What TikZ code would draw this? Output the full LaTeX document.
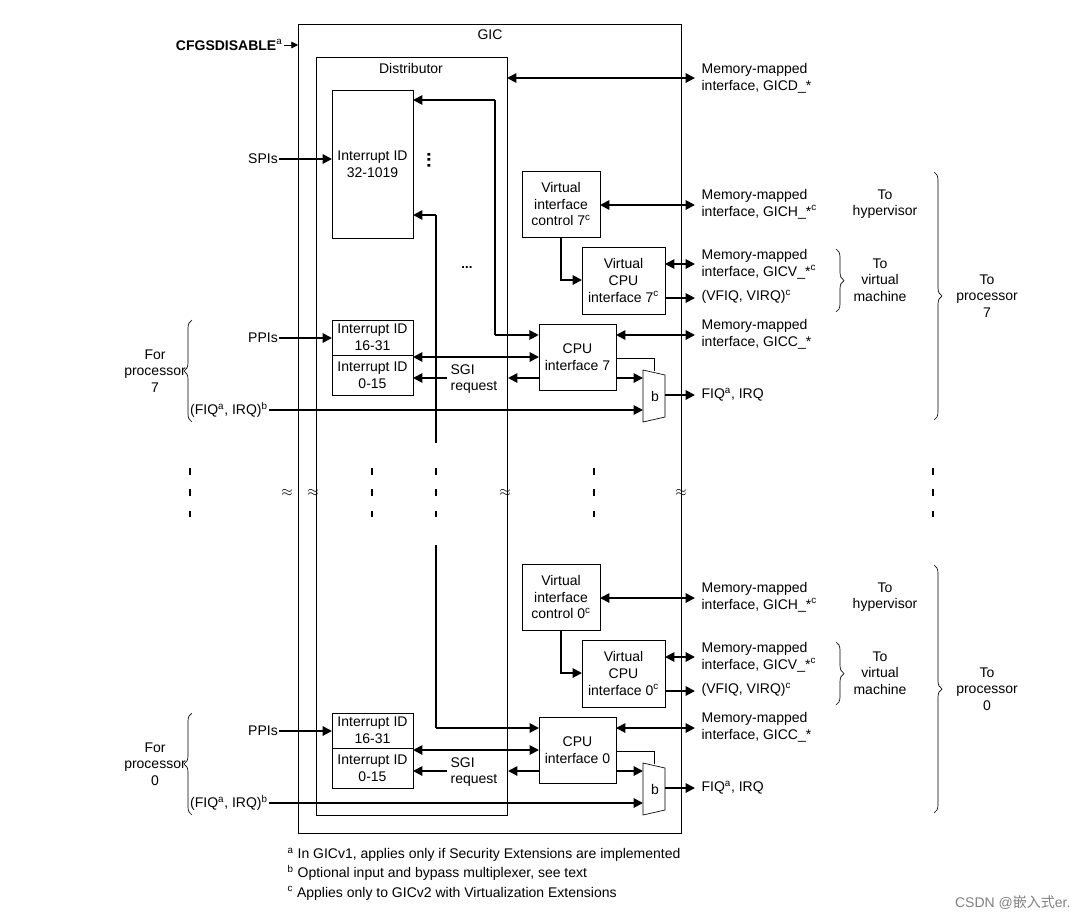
\documentclass[tikz,border=0pt]{standalone}
\usepackage{fontspec}
\setmainfont{Liberation Sans}
\newfontfamily\cjk{Noto Sans CJK SC}
\usetikzlibrary{arrows.meta,decorations.pathreplacing}
\begin{document}
\begin{tikzpicture}[x=0.75pt,y=-0.75pt,
  every node/.style={font=\fontsize{10.5}{12.5}\selectfont,inner sep=1pt},
  box/.style={draw,align=center,inner sep=0pt},
  lab/.style={anchor=west,align=left},
  arr/.style={line width=1.4pt,-{Triangle[length=7pt,width=7pt]}},
  darr/.style={line width=1.4pt,{Triangle[length=7pt,width=7pt]}-{Triangle[length=7pt,width=7pt]}},
  ln/.style={line width=1.4pt},
  thin/.style={line width=0.5pt},
  brc/.style={decorate,decoration={brace,amplitude=6pt},line width=0.5pt},
  vdots/.style={line width=2pt,dash pattern=on 5pt off 11pt}]
\useasboundingbox (0,0) rectangle (1080,921);
\draw[thin] (298,24) rectangle (681,833);
\node (gic) at (490,35) {GIC};
\draw[thin] (316,57) rectangle (507,815);
\node (dist) at (411,68) {Distributor};
\node[anchor=east,font=\fontsize{10.5}{12.5}\selectfont\bfseries] (cfg) at (284,45) {CFGSDISABLE\textsuperscript{\mdseries a}};
\draw[thin,-{Triangle[length=5pt,width=5pt]}] (cfg.east) -- (298,45);
\node[box,minimum width=81*0.75pt,minimum height=148*0.75pt] (spi) at (372.5,164) {Interrupt ID\\32-1019};
\node (spil) at (263,159) {SPIs};
\draw[arr] (spil.east) -- (332,159);
\node[rotate=90,font=\bfseries\Large] at (429,160) {...};
\node (gicdc) at (695,78) {};
\draw[darr] (507,78) -- (695,78);
\node[lab] (gicd) at (700,78) {Memory-mapped\\interface, GICD\_*};
\node[font=\bfseries] at (467,268) {...};
% break marks and dots
\foreach \x in {287,313,505,681} \node at (\x,493) {$\approx$};
\foreach \x in {190,372,436,594,933} \draw[vdots] (\x,468) -- (\x,522);
\draw[ln] (495,100) -- (495,335);
\draw[arr] (495,100) -- (413,100);
\draw[arr] (436,215) -- (413,215);
\draw[ln] (436,215) -- (436,443);
\draw[ln] (436,545) -- (436,728);
\newcommand\gichalf[2]{%
 \begin{scope}[shift={(0,#1)}]
 \node[box,minimum width=78*0.75pt,minimum height=66*0.75pt] (vic#2) at (561,204) {Virtual\\interface\\control #2\textsuperscript{c}};
 \draw[darr] (600,205) -- (695,205);
 \node[lab] (gich#2) at (700,204) {Memory-mapped\\interface, GICH\_*\textsuperscript{c}};
 \node[align=center] (hyp#2) at (885,204) {To\\hypervisor};
 \node[box,minimum width=83*0.75pt,minimum height=67*0.75pt] (vcpu#2) at (623.5,280.5) {Virtual\\CPU\\interface #2\textsuperscript{c}};
 \draw[arr] (561,237) -- (561,280) -- (582,280);
 \draw[darr] (665,264) -- (695,264);
 \draw[arr] (665,298) -- (695,298);
 \node[lab] (gicv#2) at (700,264) {Memory-mapped\\interface, GICV\_*\textsuperscript{c}};
 \node[lab] (virq#2) at (700,297) {(VFIQ, VIRQ)\textsuperscript{c}};
 \draw[brc] (836,249) -- (836,312);
 \node[align=center] (vm#2) at (880,280) {To\\virtual\\machine};
 \node[box,minimum width=77*0.75pt,minimum height=66*0.75pt] (cpu#2) at (577.5,357) {CPU\\interface #2};
 \draw[darr] (616,335) -- (695,335);
 \node[lab] (gicc#2) at (700,334) {Memory-mapped\\interface, GICC\_*};
 \node[box,minimum width=81*0.75pt,minimum height=35*0.75pt] (ppi#2) at (372.5,337.5) {Interrupt ID\\16-31};
 \node[box,minimum width=81*0.75pt,minimum height=40*0.75pt] (sgi#2) at (372.5,375) {Interrupt ID\\0-15};
 \node (ppil#2) at (263,338) {PPIs};
 \draw[arr] (ppil#2.east) -- (332,338);
 \draw[darr] (413,357) -- (539,357);
 \node[align=left] (sgir#2) at (474,379) {SGI\\request};
 \draw[arr] (447,378) -- (413,378);
 \draw[arr] (539,378) -- (508,378);
 \draw[arr] (616,378) -- (643,378);
 \draw[thin] (616,358) -- (654,358) -- (654,371);
 \draw[thin] (643,370) -- (665,375) -- (665,417) -- (643,422) -- cycle;
 \node (mux#2) at (655,396) {b};
 \draw[arr] (665,395) -- (695,395);
 \node[lab] (fiq#2) at (700,395) {FIQ\textsuperscript{a}, IRQ};
 \node (fin#2) at (229,410) {(FIQ\textsuperscript{a}, IRQ)\textsuperscript{b}};
 \draw[arr] (fin#2.east) -- (643,410);
 \draw[brc] (192,422) -- (192,320);
 \node[align=center] (forp#2) at (155,371) {For\\processor\\#2};
 \draw[brc] (934,172) -- (934,420);
 \node[align=center] (top#2) at (987,296) {To\\processor\\#2};
 \end{scope}}
\gichalf{0}{7}
\gichalf{393}{0}
\draw[arr] (495,335) -- (cpu7.west|-0,335);
\draw[arr] (436,728) -- (539,728);
\node[anchor=west,align=left] (fn) at (286,874) {\textsuperscript{a} In GICv1, applies only if Security Extensions are implemented\\[2pt]\textsuperscript{b} Optional input and bypass multiplexer, see text\\[2pt]\textsuperscript{c} Applies only to GICv2 with Virtualization Extensions};
\node[anchor=east,text=gray] (wm) at (1072,903) {CSDN @{\cjk 嵌入式}er.};
\end{tikzpicture}
\end{document}
